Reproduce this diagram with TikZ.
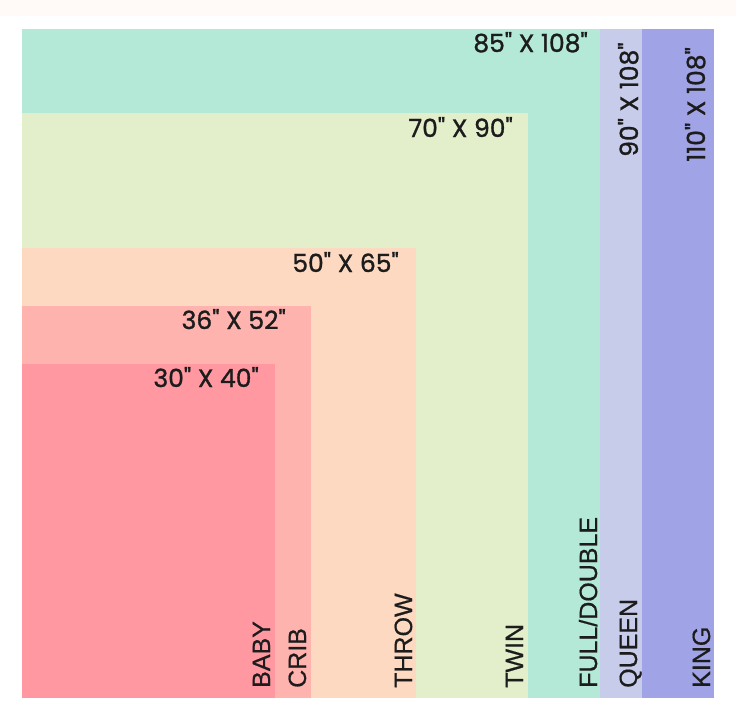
\documentclass[tikz,border=0pt]{standalone}
\usepackage{fontspec}
\setmainfont{Liberation Sans}
\newfontfamily\sizefont{Poppins}[FakeBold=1.2]
\newfontfamily\namefont{Liberation Sans}[FakeBold=0.6]

\definecolor{topwash}{HTML}{FFFAF8}
\definecolor{kingblue}{HTML}{A0A3E5}
\definecolor{queenblue}{HTML}{C8CCEB}
\definecolor{fullgreen}{HTML}{B4E9D7}
\definecolor{twingreen}{HTML}{E2EFCA}
\definecolor{throwpeach}{HTML}{FED9C1}
\definecolor{cribpink}{HTML}{FFB3AE}
\definecolor{babypink}{HTML}{FF98A1}
\definecolor{labelink}{HTML}{1C1C1C}

\begin{document}
\begin{tikzpicture}[x=1pt,y=-1pt,
  dim/.style={inner sep=0pt,text=labelink,font=\sizefont\fontsize{25}{28}\selectfont},
  bed/.style={inner sep=0pt,rotate=90,anchor=base west,text=labelink,font=\namefont\fontsize{25}{28}\selectfont}]
\path[use as bounding box] (0,0) rectangle (736,720);
\fill[topwash] (0,0) rectangle (736,16);
% blankets, largest first
\fill[kingblue] (22,29) rectangle (714,698);
\fill[queenblue] (22,29) rectangle (642,698);
\fill[fullgreen] (22,29) rectangle (600,698);
\fill[twingreen] (22,113) rectangle (528,698);
\fill[throwpeach] (22,248) rectangle (416,698);
\fill[cribpink] (22,306) rectangle (311,698);
\fill[babypink] (22,364) rectangle (275,698);
% sizes
\node[dim,anchor=base east] (fullsize) at (588,52) {85" X 108"};
\node[dim,anchor=base east] (twinsize) at (513,137) {70" X 90"};
\node[dim,anchor=base east] (throwsize) at (399,272) {50" X 65"};
\node[dim,anchor=base east] (cribsize) at (286,329) {36" X 52"};
\node[dim,anchor=base east] (babysize) at (259,387) {30" X 40"};
\node[dim,rotate=90,anchor=base west] (queensize) at (638,157) {90" X 108"};
\node[dim,rotate=90,anchor=base west] (kingsize) at (705,162) {110" X 108"};
% names
\node[bed] (baby) at (270,688) {BABY};
\node[bed] (crib) at (306,688) {CRIB};
\node[bed] (throw) at (412,688) {THROW};
\node[bed] (twin) at (523,688) {TWIN};
\node[bed] (full) at (597,688) {FULL/DOUBLE};
\node[bed] (queen) at (637,688) {QUEEN};
\node[bed] (king) at (710,688) {KING};
\end{tikzpicture}
\end{document}
